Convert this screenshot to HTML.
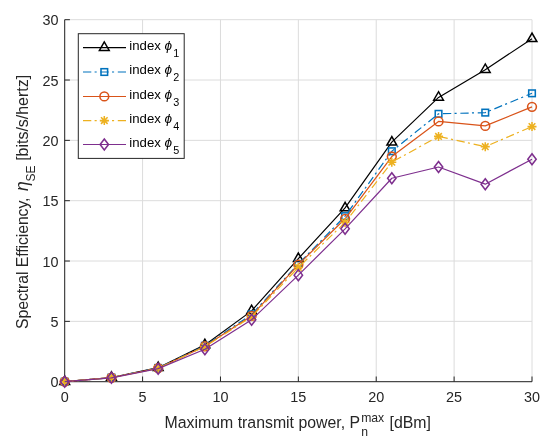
<!DOCTYPE html>
<html lang="en"><head><meta charset="utf-8"><title>Spectral Efficiency vs Maximum transmit power</title>
<style>html,body{margin:0;padding:0;background:#fff}body{width:550px;height:446px;overflow:hidden}</style></head>
<body>
<svg width="550" height="446" viewBox="0 0 550 446" style="display:block">
<rect width="550" height="446" fill="#fff"/>
<path d="M64.70 19.7V381.7M64.7 381.70H532.0M142.58 19.7V381.7M64.7 321.37H532.0M220.47 19.7V381.7M64.7 261.03H532.0M298.35 19.7V381.7M64.7 200.70H532.0M376.23 19.7V381.7M64.7 140.37H532.0M454.12 19.7V381.7M64.7 80.03H532.0M532.00 19.7V381.7M64.7 19.70H532.0" stroke="#dcdcdc" stroke-width="1" fill="none"/>
<path d="M64.7 19.7V381.7H532.0" stroke="#262626" stroke-width="1" fill="none"/>
<path d="M64.70 381.7v-5.2M64.7 381.70h5.2M142.58 381.7v-5.2M64.7 321.37h5.2M220.47 381.7v-5.2M64.7 261.03h5.2M298.35 381.7v-5.2M64.7 200.70h5.2M376.23 381.7v-5.2M64.7 140.37h5.2M454.12 381.7v-5.2M64.7 80.03h5.2M532.00 381.7v-5.2M64.7 19.70h5.2" stroke="#262626" stroke-width="1" fill="none"/>
<g font-family="'Liberation Sans', Arial, sans-serif" font-size="14.4" fill="#262626">
<text x="64.70" y="402.3" text-anchor="middle">0</text>
<text x="58.5" y="387.45" text-anchor="end">0</text>
<text x="142.58" y="402.3" text-anchor="middle">5</text>
<text x="58.5" y="327.12" text-anchor="end">5</text>
<text x="220.47" y="402.3" text-anchor="middle">10</text>
<text x="58.5" y="266.78" text-anchor="end">10</text>
<text x="298.35" y="402.3" text-anchor="middle">15</text>
<text x="58.5" y="206.45" text-anchor="end">15</text>
<text x="376.23" y="402.3" text-anchor="middle">20</text>
<text x="58.5" y="146.12" text-anchor="end">20</text>
<text x="454.12" y="402.3" text-anchor="middle">25</text>
<text x="58.5" y="85.78" text-anchor="end">25</text>
<text x="532.00" y="402.3" text-anchor="middle">30</text>
<text x="58.5" y="25.45" text-anchor="end">30</text>
</g>
<polyline points="64.70,381.70 111.43,377.48 158.16,367.70 204.89,344.90 251.62,310.87 298.35,258.62 345.08,207.94 391.81,142.18 438.54,97.41 485.27,69.66 532.00,38.77" fill="none" stroke="#000000" stroke-width="1.2" stroke-linejoin="round"/>
<polygon points="64.70,376.04 59.80,384.53 69.60,384.53" fill="none" stroke="#000000" stroke-width="1.5" stroke-miterlimit="10"/>
<polygon points="111.43,371.82 106.53,380.31 116.33,380.31" fill="none" stroke="#000000" stroke-width="1.5" stroke-miterlimit="10"/>
<polygon points="158.16,362.04 153.26,370.53 163.06,370.53" fill="none" stroke="#000000" stroke-width="1.5" stroke-miterlimit="10"/>
<polygon points="204.89,339.24 199.99,347.73 209.79,347.73" fill="none" stroke="#000000" stroke-width="1.5" stroke-miterlimit="10"/>
<polygon points="251.62,305.21 246.72,313.70 256.52,313.70" fill="none" stroke="#000000" stroke-width="1.5" stroke-miterlimit="10"/>
<polygon points="298.35,252.96 293.45,261.45 303.25,261.45" fill="none" stroke="#000000" stroke-width="1.5" stroke-miterlimit="10"/>
<polygon points="345.08,202.28 340.18,210.77 349.98,210.77" fill="none" stroke="#000000" stroke-width="1.5" stroke-miterlimit="10"/>
<polygon points="391.81,136.52 386.91,145.01 396.71,145.01" fill="none" stroke="#000000" stroke-width="1.5" stroke-miterlimit="10"/>
<polygon points="438.54,91.75 433.64,100.24 443.44,100.24" fill="none" stroke="#000000" stroke-width="1.5" stroke-miterlimit="10"/>
<polygon points="485.27,64.00 480.37,72.49 490.17,72.49" fill="none" stroke="#000000" stroke-width="1.5" stroke-miterlimit="10"/>
<polygon points="532.00,33.11 527.10,41.59 536.90,41.59" fill="none" stroke="#000000" stroke-width="1.5" stroke-miterlimit="10"/>
<polyline points="64.70,381.70 111.43,377.60 158.16,367.94 204.89,345.74 251.62,314.37 298.35,263.93 345.08,216.15 391.81,151.23 438.54,113.82 485.27,112.61 532.00,93.31" fill="none" stroke="#0072BD" stroke-width="1.2" stroke-linejoin="round" stroke-dasharray="8.3 3.3 2.1 3.7" stroke-dashoffset="4.7"/>
<rect x="61.40" y="378.40" width="6.60" height="6.60" fill="none" stroke="#0072BD" stroke-width="1.55" stroke-miterlimit="10"/>
<rect x="108.13" y="374.30" width="6.60" height="6.60" fill="none" stroke="#0072BD" stroke-width="1.55" stroke-miterlimit="10"/>
<rect x="154.86" y="364.64" width="6.60" height="6.60" fill="none" stroke="#0072BD" stroke-width="1.55" stroke-miterlimit="10"/>
<rect x="201.59" y="342.44" width="6.60" height="6.60" fill="none" stroke="#0072BD" stroke-width="1.55" stroke-miterlimit="10"/>
<rect x="248.32" y="311.07" width="6.60" height="6.60" fill="none" stroke="#0072BD" stroke-width="1.55" stroke-miterlimit="10"/>
<rect x="295.05" y="260.63" width="6.60" height="6.60" fill="none" stroke="#0072BD" stroke-width="1.55" stroke-miterlimit="10"/>
<rect x="341.78" y="212.85" width="6.60" height="6.60" fill="none" stroke="#0072BD" stroke-width="1.55" stroke-miterlimit="10"/>
<rect x="388.51" y="147.93" width="6.60" height="6.60" fill="none" stroke="#0072BD" stroke-width="1.55" stroke-miterlimit="10"/>
<rect x="435.24" y="110.52" width="6.60" height="6.60" fill="none" stroke="#0072BD" stroke-width="1.55" stroke-miterlimit="10"/>
<rect x="481.97" y="109.31" width="6.60" height="6.60" fill="none" stroke="#0072BD" stroke-width="1.55" stroke-miterlimit="10"/>
<rect x="528.70" y="90.01" width="6.60" height="6.60" fill="none" stroke="#0072BD" stroke-width="1.55" stroke-miterlimit="10"/>
<polyline points="64.70,381.70 111.43,377.72 158.16,368.19 204.89,346.22 251.62,315.82 298.35,264.65 345.08,218.80 391.81,156.54 438.54,121.42 485.27,125.89 532.00,106.82" fill="none" stroke="#D95319" stroke-width="1.2" stroke-linejoin="round"/>
<circle cx="64.70" cy="381.70" r="4.4" fill="none" stroke="#D95319" stroke-width="1.55" stroke-miterlimit="10"/>
<circle cx="111.43" cy="377.72" r="4.4" fill="none" stroke="#D95319" stroke-width="1.55" stroke-miterlimit="10"/>
<circle cx="158.16" cy="368.19" r="4.4" fill="none" stroke="#D95319" stroke-width="1.55" stroke-miterlimit="10"/>
<circle cx="204.89" cy="346.22" r="4.4" fill="none" stroke="#D95319" stroke-width="1.55" stroke-miterlimit="10"/>
<circle cx="251.62" cy="315.82" r="4.4" fill="none" stroke="#D95319" stroke-width="1.55" stroke-miterlimit="10"/>
<circle cx="298.35" cy="264.65" r="4.4" fill="none" stroke="#D95319" stroke-width="1.55" stroke-miterlimit="10"/>
<circle cx="345.08" cy="218.80" r="4.4" fill="none" stroke="#D95319" stroke-width="1.55" stroke-miterlimit="10"/>
<circle cx="391.81" cy="156.54" r="4.4" fill="none" stroke="#D95319" stroke-width="1.55" stroke-miterlimit="10"/>
<circle cx="438.54" cy="121.42" r="4.4" fill="none" stroke="#D95319" stroke-width="1.55" stroke-miterlimit="10"/>
<circle cx="485.27" cy="125.89" r="4.4" fill="none" stroke="#D95319" stroke-width="1.55" stroke-miterlimit="10"/>
<circle cx="532.00" cy="106.82" r="4.4" fill="none" stroke="#D95319" stroke-width="1.55" stroke-miterlimit="10"/>
<polyline points="64.70,381.70 111.43,377.72 158.16,368.31 204.89,346.71 251.62,316.78 298.35,267.43 345.08,222.42 391.81,162.21 438.54,136.38 485.27,146.64 532.00,126.61" fill="none" stroke="#EDB120" stroke-width="1.2" stroke-linejoin="round" stroke-dasharray="8.3 3.3 2.1 3.7" stroke-dashoffset="4.7"/>
<path d="M60.20 381.70H69.20M64.70 377.20V386.20M61.40 378.40L68.00 385.00M61.40 385.00L68.00 378.40" fill="none" stroke="#EDB120" stroke-width="1.55" stroke-miterlimit="10"/>
<path d="M106.93 377.72H115.93M111.43 373.22V382.22M108.13 374.42L114.73 381.02M108.13 381.02L114.73 374.42" fill="none" stroke="#EDB120" stroke-width="1.55" stroke-miterlimit="10"/>
<path d="M153.66 368.31H162.66M158.16 363.81V372.81M154.86 365.01L161.46 371.61M154.86 371.61L161.46 365.01" fill="none" stroke="#EDB120" stroke-width="1.55" stroke-miterlimit="10"/>
<path d="M200.39 346.71H209.39M204.89 342.21V351.21M201.59 343.41L208.19 350.01M201.59 350.01L208.19 343.41" fill="none" stroke="#EDB120" stroke-width="1.55" stroke-miterlimit="10"/>
<path d="M247.12 316.78H256.12M251.62 312.28V321.28M248.32 313.48L254.92 320.08M248.32 320.08L254.92 313.48" fill="none" stroke="#EDB120" stroke-width="1.55" stroke-miterlimit="10"/>
<path d="M293.85 267.43H302.85M298.35 262.93V271.93M295.05 264.13L301.65 270.73M295.05 270.73L301.65 264.13" fill="none" stroke="#EDB120" stroke-width="1.55" stroke-miterlimit="10"/>
<path d="M340.58 222.42H349.58M345.08 217.92V226.92M341.78 219.12L348.38 225.72M341.78 225.72L348.38 219.12" fill="none" stroke="#EDB120" stroke-width="1.55" stroke-miterlimit="10"/>
<path d="M387.31 162.21H396.31M391.81 157.71V166.71M388.51 158.91L395.11 165.51M388.51 165.51L395.11 158.91" fill="none" stroke="#EDB120" stroke-width="1.55" stroke-miterlimit="10"/>
<path d="M434.04 136.38H443.04M438.54 131.88V140.88M435.24 133.08L441.84 139.68M435.24 139.68L441.84 133.08" fill="none" stroke="#EDB120" stroke-width="1.55" stroke-miterlimit="10"/>
<path d="M480.77 146.64H489.77M485.27 142.14V151.14M481.97 143.34L488.57 149.94M481.97 149.94L488.57 143.34" fill="none" stroke="#EDB120" stroke-width="1.55" stroke-miterlimit="10"/>
<path d="M527.50 126.61H536.50M532.00 122.11V131.11M528.70 123.31L535.30 129.91M528.70 129.91L535.30 123.31" fill="none" stroke="#EDB120" stroke-width="1.55" stroke-miterlimit="10"/>
<polyline points="64.70,381.70 111.43,377.84 158.16,368.67 204.89,349.24 251.62,319.80 298.35,275.15 345.08,228.82 391.81,178.26 438.54,167.03 485.27,184.17 532.00,159.19" fill="none" stroke="#7E2F8E" stroke-width="1.2" stroke-linejoin="round"/>
<polygon points="64.70,376.20 68.90,381.70 64.70,387.20 60.50,381.70" fill="none" stroke="#7E2F8E" stroke-width="1.55" stroke-miterlimit="10"/>
<polygon points="111.43,372.34 115.63,377.84 111.43,383.34 107.23,377.84" fill="none" stroke="#7E2F8E" stroke-width="1.55" stroke-miterlimit="10"/>
<polygon points="158.16,363.17 162.36,368.67 158.16,374.17 153.96,368.67" fill="none" stroke="#7E2F8E" stroke-width="1.55" stroke-miterlimit="10"/>
<polygon points="204.89,343.74 209.09,349.24 204.89,354.74 200.69,349.24" fill="none" stroke="#7E2F8E" stroke-width="1.55" stroke-miterlimit="10"/>
<polygon points="251.62,314.30 255.82,319.80 251.62,325.30 247.42,319.80" fill="none" stroke="#7E2F8E" stroke-width="1.55" stroke-miterlimit="10"/>
<polygon points="298.35,269.65 302.55,275.15 298.35,280.65 294.15,275.15" fill="none" stroke="#7E2F8E" stroke-width="1.55" stroke-miterlimit="10"/>
<polygon points="345.08,223.32 349.28,228.82 345.08,234.32 340.88,228.82" fill="none" stroke="#7E2F8E" stroke-width="1.55" stroke-miterlimit="10"/>
<polygon points="391.81,172.76 396.01,178.26 391.81,183.76 387.61,178.26" fill="none" stroke="#7E2F8E" stroke-width="1.55" stroke-miterlimit="10"/>
<polygon points="438.54,161.53 442.74,167.03 438.54,172.53 434.34,167.03" fill="none" stroke="#7E2F8E" stroke-width="1.55" stroke-miterlimit="10"/>
<polygon points="485.27,178.67 489.47,184.17 485.27,189.67 481.07,184.17" fill="none" stroke="#7E2F8E" stroke-width="1.55" stroke-miterlimit="10"/>
<polygon points="532.00,153.69 536.20,159.19 532.00,164.69 527.80,159.19" fill="none" stroke="#7E2F8E" stroke-width="1.55" stroke-miterlimit="10"/>
<g font-family="'Liberation Sans', Arial, sans-serif" font-size="15.85" fill="#262626">
<text y="428"><tspan x="164.6">Maximum transmit power, P</tspan><tspan font-size="12.2" x="361.2" y="422.1">max</tspan><tspan font-size="12.2" x="361.2" y="435.8">n</tspan><tspan x="389.5" y="428">[dBm]</tspan></text>
<text transform="translate(27.5 328.9) rotate(-90)" y="0"><tspan x="0" letter-spacing="-0.1">Spectral Efficiency,</tspan><tspan x="137.8" font-style="italic" font-size="17.5">η</tspan><tspan font-size="12" x="147.5" y="7.9">SE</tspan><tspan x="168.1" y="0" font-size="15.95">[bits/s/hertz]</tspan></text>
</g>
<rect x="78.3" y="33.7" width="105.90" height="124.70" fill="#fff" stroke="#262626" stroke-width="1"/>
<g font-family="'Liberation Sans', Arial, sans-serif" font-size="13.2" fill="#000">
<path d="M83 47.6H126" stroke="#000000" stroke-width="1.05" fill="none"/>
<polygon points="104.30,41.94 99.40,50.43 109.20,50.43" fill="none" stroke="#000000" stroke-width="1.5" stroke-miterlimit="10"/>
<text x="129.3" y="49.80">index <tspan font-style="italic" font-size="13.6">ϕ</tspan><tspan font-size="10.8" dx="1.1" dy="7.2">1</tspan></text>
<path d="M83 72.0H126" stroke="#0072BD" stroke-width="1.05" fill="none" stroke-dasharray="8.3 3.3 2.1 3.7"/>
<rect x="101.00" y="68.70" width="6.60" height="6.60" fill="none" stroke="#0072BD" stroke-width="1.55" stroke-miterlimit="10"/>
<text x="129.3" y="74.20">index <tspan font-style="italic" font-size="13.6">ϕ</tspan><tspan font-size="10.8" dx="1.1" dy="7.2">2</tspan></text>
<path d="M83 96.4H126" stroke="#D95319" stroke-width="1.05" fill="none"/>
<circle cx="104.30" cy="96.40" r="4.4" fill="none" stroke="#D95319" stroke-width="1.55" stroke-miterlimit="10"/>
<text x="129.3" y="98.60">index <tspan font-style="italic" font-size="13.6">ϕ</tspan><tspan font-size="10.8" dx="1.1" dy="7.2">3</tspan></text>
<path d="M83 120.6H126" stroke="#EDB120" stroke-width="1.05" fill="none" stroke-dasharray="8.3 3.3 2.1 3.7"/>
<path d="M99.80 120.60H108.80M104.30 116.10V125.10M101.00 117.30L107.60 123.90M101.00 123.90L107.60 117.30" fill="none" stroke="#EDB120" stroke-width="1.55" stroke-miterlimit="10"/>
<text x="129.3" y="122.80">index <tspan font-style="italic" font-size="13.6">ϕ</tspan><tspan font-size="10.8" dx="1.1" dy="7.2">4</tspan></text>
<path d="M83 144.5H126" stroke="#7E2F8E" stroke-width="1.05" fill="none"/>
<polygon points="104.30,139.00 108.50,144.50 104.30,150.00 100.10,144.50" fill="none" stroke="#7E2F8E" stroke-width="1.55" stroke-miterlimit="10"/>
<text x="129.3" y="146.70">index <tspan font-style="italic" font-size="13.6">ϕ</tspan><tspan font-size="10.8" dx="1.1" dy="7.2">5</tspan></text>
</g>
</svg>
</body></html>
